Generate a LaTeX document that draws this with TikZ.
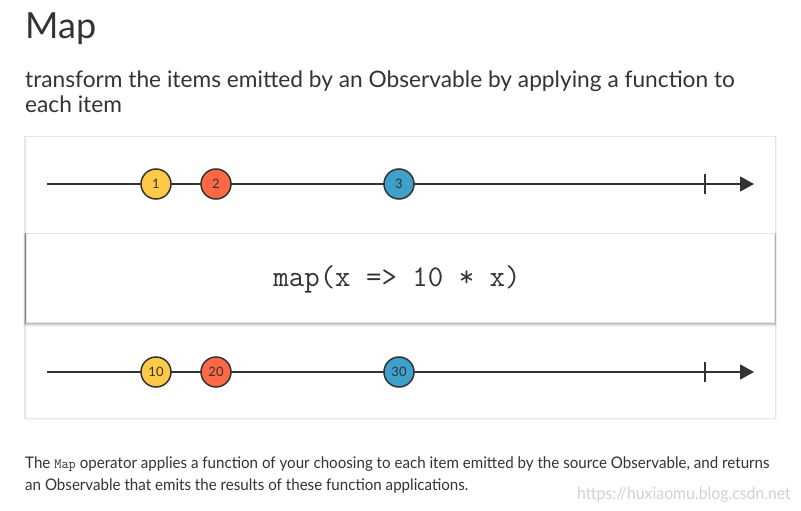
\documentclass[tikz,border=0pt]{standalone}
\usepackage{fontspec}
\setmainfont{Lato}
\newfontfamily\narrowfont[FakeStretch=0.945]{Lato}
\newfontfamily\markfont[FakeStretch=0.93]{Lato}
\newfontfamily\codefont{Liberation Mono}
\usetikzlibrary{arrows.meta}
\definecolor{ink}{RGB}{51,51,51}
\definecolor{marbleyellow}{RGB}{255,203,70}
\definecolor{marblered}{RGB}{255,105,70}
\definecolor{marbleblue}{RGB}{62,161,203}
\definecolor{panelgray}{RGB}{230,230,230}

\begin{document}
\begin{tikzpicture}[x=1pt,y=-1pt,
    marble/.style={circle,draw=ink,line width=1.5pt,minimum size=30pt,inner sep=0pt,font=\fontsize{13}{15}\selectfont,text=ink},
    timeline/.style={draw=ink,line width=1.8pt,-{Triangle[length=14pt,width=15pt]}},
    panel/.style={draw=panelgray,fill=white,line width=0.8pt}]
    \useasboundingbox (0,0) rectangle (801,511);

    \node[anchor=base west,inner sep=0pt,font=\fontsize{36}{40}\selectfont,text=ink] at (25,39) (title) {Map};
    \node[anchor=base west,inner sep=0pt,align=left,font=\fontsize{22.7}{25}\selectfont,text=ink] at (25,113) (subtitle) {transform the items emitted by an Observable by applying a function to\\each item};

    % panels
    \foreach \d/\o in {3/10,2/16,1/24}
        \fill[black,opacity=\o/100*0.35] (25-\d*0.5,136) rectangle (775+\d*0.5,418+\d*0.7);
    \draw[panel] (25,136) rectangle (775,234);
    \draw[panel] (25,322) rectangle (775,418);
    \foreach \d/\o in {5/8,4/12,3/18,2/25,1/35}
        \fill[black,opacity=\o/100*0.45] (26-\d*0.6,233) rectangle (774+\d*0.6,322+\d);
    \draw[fill=white,draw=panelgray] (26,233) rectangle (774,322);
    \node[font=\ttfamily\fontsize{30}{34}\selectfont,text=ink] at (397,279) (func) {map(x => 10 * x)};

    % source
    \coordinate (srcstart) at (47,184);
    \coordinate (srcend) at (754,184);
    \draw[timeline] (srcstart) -- (srcend);
    \draw[ink,line width=1.8pt] (705,174) -- (705,194);
    \node[marble,fill=marbleyellow] at (156,184) (s1) {1};
    \node[marble,fill=marblered] at (216,184) (s2) {2};
    \node[marble,fill=marbleblue] at (399,184) (s3) {3};

    % result
    \coordinate (resstart) at (47,372);
    \coordinate (resend) at (754,372);
    \draw[timeline] (resstart) -- (resend);
    \draw[ink,line width=1.8pt] (705,362) -- (705,382);
    \node[marble,fill=marbleyellow] at (156,372) (r1) {10};
    \node[marble,fill=marblered] at (216,372) (r2) {20};
    \node[marble,fill=marbleblue] at (399,372) (r3) {30};

    \node[anchor=base west,inner sep=0pt,align=left,font=\narrowfont\fontsize{16}{22}\selectfont,text=ink] at (25,490) (desc) {The {\ttfamily\fontsize{14}{15}\selectfont Map} operator applies a function of your choosing to each item emitted by the source Observable, and returns\\an Observable that emits the results of these function applications.};
    \node[anchor=base east,inner sep=0pt,font=\markfont\fontsize{17}{18}\selectfont,text=black!18] at (791,499) (mark) {https://huxiaomu.blog.csdn.net};
\end{tikzpicture}
\end{document}
